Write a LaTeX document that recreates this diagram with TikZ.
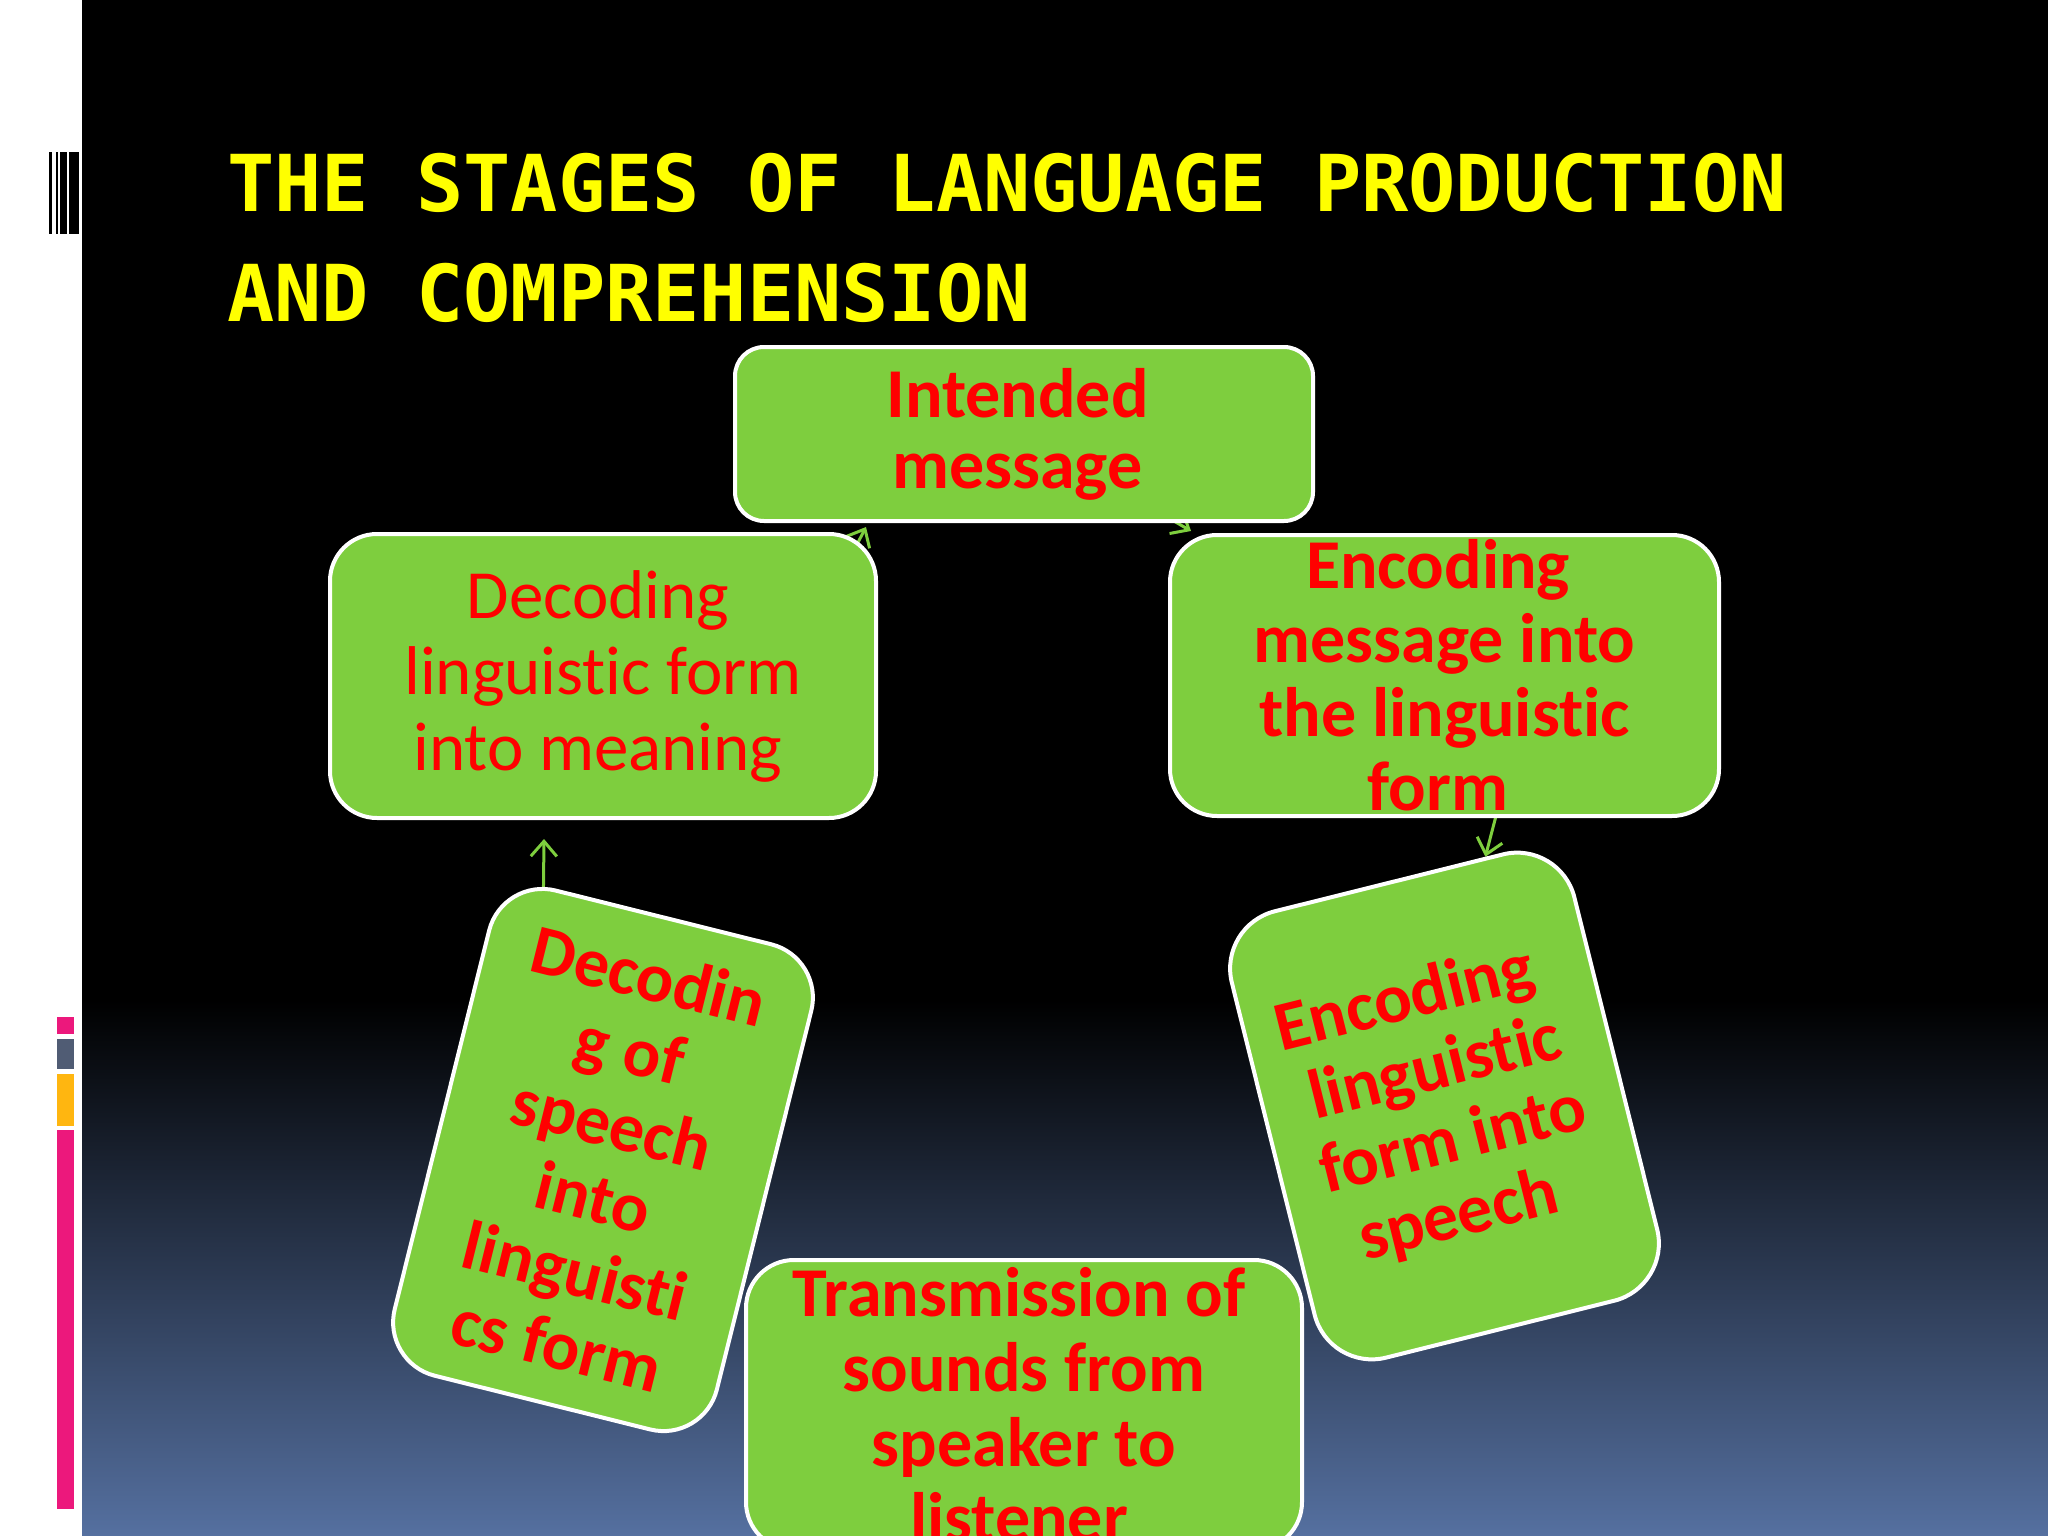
\documentclass[tikz,border=0pt]{standalone}
\usepackage{fontspec}
\usetikzlibrary{arrows.meta,calc}
\newfontfamily\boxfont[Ligatures=NoCommon]{Carlito}
\newfontfamily\titlefont{DejaVu Sans Mono}
\definecolor{boxgreen}{RGB}{126,206,62}
\definecolor{linkgreen}{RGB}{126,206,62}
\definecolor{bgblue}{RGB}{85,112,160}
\definecolor{barpink}{RGB}{236,24,124}
\definecolor{bargrey}{RGB}{80,92,116}
\definecolor{barorange}{RGB}{255,182,16}
\definecolor{titleyellow}{RGB}{255,255,0}
\pgfdeclarelayer{bg}
\pgfdeclarelayer{links}
\pgfsetlayers{bg,links,main}
\newcommand\padR[1]{\hspace*{#1}}
\tikzset{
  stage/.style={draw=white, line width=4pt, fill=boxgreen, text=red, align=center, inner sep=0pt},
  boldtext/.style={font=\boxfont\bfseries\fontsize{70}{#1}\selectfont},
  link/.style={draw=linkgreen, line width=3pt, -{Straight Barb[length=15pt,width=26pt]}},
  titletext/.style={font=\titlefont\bfseries\fontsize{78.5}{110}\selectfont, text=titleyellow, anchor=base west, inner sep=0pt}
}
\begin{document}
\begin{tikzpicture}[x=1pt,y=-1pt]
\useasboundingbox (0,0) rectangle (2048,1536);
\begin{pgfonlayer}{bg}
\fill[white] (0,0) rectangle (82,1536);
\fill[black] (82,0) rectangle (2048,1001);
\shade[top color=black, bottom color=bgblue] (82,1000) rectangle (2048,1536);
% barcode marks
\fill[black] (49.3,152) rectangle (51.7,234);
\fill[black] (55.7,152) rectangle (58.3,234);
\fill[black] (60.3,152) rectangle (66.7,234);
\fill[black] (69,152) rectangle (79.3,234);
% colour bars
\fill[barpink] (57.3,1017) rectangle (74,1034);
\fill[bargrey] (57.3,1038.5) rectangle (74,1069);
\fill[barorange] (57.3,1074) rectangle (74,1126);
\fill[barpink] (57.3,1130) rectangle (74,1509);
\end{pgfonlayer}

% title
\node[titletext] (title1) at (227,211) {THE STAGES OF LANGUAGE PRODUCTION};
\node[titletext] (title2) at (227,321) {AND COMPREHENSION};

% stages
\node[stage, boldtext=71, minimum width=578pt, minimum height=174pt, rounded corners=29pt] (intended) at (1024,434)
  {Intended\padR{13pt}\\message\padR{13pt}};
\node[stage, font=\boxfont\fontsize{69}{76}\selectfont, minimum width=546pt, minimum height=284pt, rounded corners=47pt] (dec) at (603,676)
  {Decoding\padR{10pt}\\linguistic form\padR{10pt}\\into meaning\padR{10pt}};
\node[stage, boldtext=74, minimum width=549pt, minimum height=281pt, rounded corners=47pt] (enc) at (1444.5,675.5)
  {Encoding\padR{13pt}\\message into\padR{13pt}\\the linguistic\padR{13pt}\\form\padR{13pt}};
\node[stage, boldtext=74.5, minimum width=353pt, minimum height=460pt, rounded corners=59pt, rotate=14] (rrot) at (1444.5,1106)
  {Encoding\padR{26pt}\\linguistic\padR{26pt}\\form into\padR{26pt}\\speech\padR{26pt}};
\node[stage, boldtext=76, minimum width=332pt, minimum height=500pt, rounded corners=55pt, rotate=-14] (lrot) at (603,1160)
  {Decodin\\g of\\speech\\into\\linguisti\\cs form};
\node[stage, boldtext=75, minimum width=556pt, minimum height=290pt, rounded corners=48pt] (trans) at (1024,1405)
  {Transmission of\padR{10pt}\\sounds from\padR{10pt}\\speaker to\padR{10pt}\\listener\padR{10pt}};

% connector ends
\coordinate (ie-s) at ($(intended.south east)+(-148,-6)$);
\coordinate (ie-t) at ($(enc.north west)+(23,-2)$);
\coordinate (er-s) at ($(enc.south)+(52,-4)$);
\coordinate (er-t) at ($(rrot.north west)!0.78!(rrot.north east)$);
\coordinate (ld-s) at ($(lrot.north west)!0.13!(lrot.north east)+(0,14)$);
\coordinate (ld-t) at ($(dec.south west)+(216,19)$);
\coordinate (di-s) at ($(dec.north east)+(-26,22)$);
\coordinate (di-t) at ($(intended.south west)+(133,4)$);

\begin{pgfonlayer}{links}
\draw[link] (ie-s) -- (ie-t);
\draw[link] (er-s) -- (er-t);
\draw[link] (ld-s) -- (ld-t);
\draw[link] (di-s) -- (di-t);
\end{pgfonlayer}
\end{tikzpicture}
\end{document}
